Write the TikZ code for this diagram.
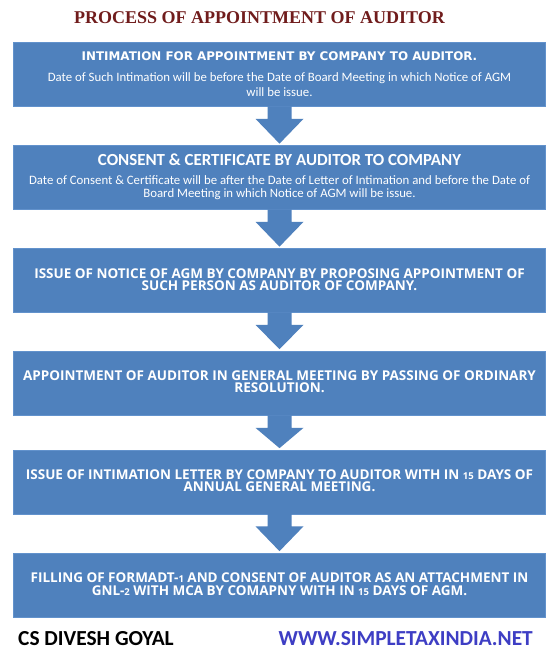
\documentclass[tikz,border=0pt]{standalone}
\usepackage{fontspec}
\setmainfont{Carlito}
\newfontfamily\headfont{Open Sans}
\newfontfamily\verdfont{DejaVu Sans}
\newfontfamily\titlefont{Liberation Serif}
\usetikzlibrary{calc}
\definecolor{boxblue}{RGB}{79,129,189}
\definecolor{boxedge}{RGB}{98,146,204}
\definecolor{titlered}{RGB}{112,28,28}
\definecolor{urlblue}{RGB}{62,62,196}
\newcommand\sdig[1]{{\fontsize{9.5}{9.5}\selectfont #1}}
\newcommand\flowarrow[2]{%
  \fill[arrowfill] ($(#1.south)+(-12,-0.5)$) -- ($(#1.south)+(12,-0.5)$) -- ($(#1.south)+(12,12)$)
    -- ($(#1.south)+(24,12)$) -- ($(#2.north)+(0,-1.5)$) -- ($(#1.south)+(-24,12)$)
    -- ($(#1.south)+(-12,12)$) -- cycle;}
\begin{document}
\begin{tikzpicture}[x=1pt,y=-1pt,
  box/.style={draw=boxedge, line width=0.7pt, fill=boxblue, minimum width=532.4pt, inner sep=0pt},
  arrowfill/.style={fill=boxblue},
  txt/.style={text=white, inner sep=0pt, anchor=base},
  hd/.style={text=white, inner sep=0pt, anchor=center, align=center, font=\headfont\bfseries\fontsize{13.5}{12.3}\selectfont},
  hdone/.style={txt, font=\verdfont\bfseries\fontsize{11.9}{12}\selectfont},
  hdtwo/.style={txt, font=\bfseries\fontsize{16.9}{15}\selectfont},
  sub/.style={txt, font=\fontsize{12.8}{14}\selectfont},
  foot/.style={inner sep=0pt, font=\bfseries\fontsize{21.4}{21.4}\selectfont}
]
\fill[white] (0,0) rectangle (559,654);
\useasboundingbox (0,0) rectangle (559,654);

% title
\node[txt, text=titlered, font=\titlefont\bfseries\fontsize{18}{18}\selectfont] (title) at (259.5,23) {PROCESS OF APPOINTMENT OF AUDITOR};

% boxes
\node[box, minimum height=64pt] (b1) at (279.5,74.5) {};
\node[box, minimum height=64pt] (b2) at (279.5,177.5) {};
\node[box, minimum height=64pt] (b3) at (279.5,280.5) {};
\node[box, minimum height=64.5pt] (b4) at (279.5,383.25) {};
\node[box, minimum height=64pt] (b5) at (279.5,482) {};
\node[box, minimum height=64.5pt] (b6) at (279.5,585.25) {};

% arrows
\flowarrow{b1}{b2}
\flowarrow{b2}{b3}
\flowarrow{b3}{b4}
\flowarrow{b4}{b5}
\flowarrow{b5}{b6}

% box 1
\node[hdone] (t1a) at (279.5,60.5) {INTIMATION FOR APPOINTMENT BY COMPANY TO AUDITOR.};
\node[sub] (t1b) at (279.5,81.5) {Date of Such Intimation will be before the Date of Board Meeting in which Notice of AGM};
\node[sub] (t1c) at (279.5,96) {will be issue.};

% box 2
\node[hdtwo] (t2a) at (279.5,165.5) {CONSENT \& CERTIFICATE BY AUDITOR TO COMPANY};
\node[sub] (t2b) at (279.5,184) {Date of Consent \& Certificate will be after the Date of Letter of Intimation and before the Date of};
\node[sub] (t2c) at (279.5,197.5) {Board Meeting in which Notice of AGM will be issue.};

% box 3
\node[hd] (t3) at (279.5,279.6) {ISSUE OF NOTICE OF AGM BY COMPANY BY PROPOSING APPOINTMENT OF\\SUCH PERSON AS AUDITOR OF COMPANY.};

% box 4
\node[hd] (t4) at (279.5,382) {APPOINTMENT OF AUDITOR IN GENERAL MEETING BY PASSING OF ORDINARY\\RESOLUTION.};

% box 5
\node[hd] (t5) at (279.5,480.6) {ISSUE OF INTIMATION LETTER BY COMPANY TO AUDITOR WITH IN \sdig{15} DAYS OF\\ANNUAL GENERAL MEETING.};

% box 6
\node[hd] (t6) at (279.5,584.3) {FILLING OF FORMADT-\sdig{1} AND CONSENT OF AUDITOR AS AN ATTACHMENT IN\\GNL-\sdig{2} WITH MCA BY COMAPNY WITH IN \sdig{15} DAYS OF AGM.};

% footer
\node[foot, anchor=base west] (author) at (18,645) {CS DIVESH GOYAL};
\node[foot, anchor=base east, text=urlblue] (url) at (533,645) {WWW.SIMPLETAXINDIA.NET};
\end{tikzpicture}
\end{document}
